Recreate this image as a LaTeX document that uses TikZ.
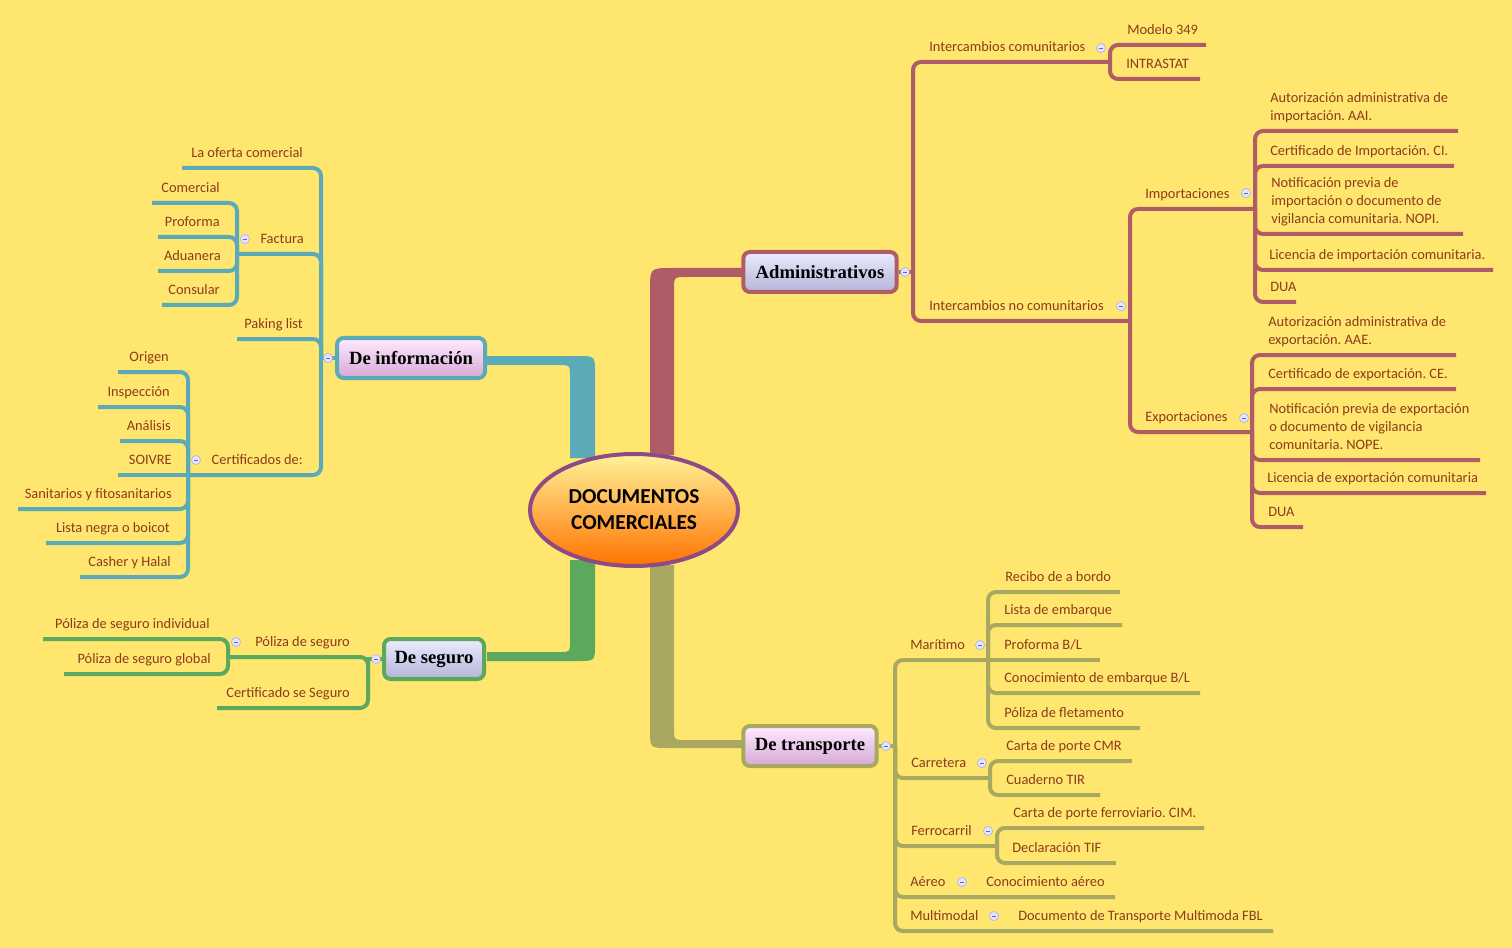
\documentclass[tikz,border=0pt]{standalone}
\usepackage{fontspec}
\usetikzlibrary{shapes.geometric}
\setmainfont{Carlito}
\newfontfamily\ttlfont{Liberation Serif}
\frenchspacing
\begin{document}
\begin{tikzpicture}[x=0.75pt,y=-0.75pt]
\definecolor{bg}{HTML}{FFE66E}
\definecolor{adm}{HTML}{B05C66}
\definecolor{inf}{HTML}{5AAAB8}
\definecolor{seg}{HTML}{5CA85C}
\definecolor{tra}{HTML}{A8A860}
\definecolor{txt}{HTML}{8E3A1C}
\newcounter{nn}
\tikzset{
 br/.style={line width=3pt,rounded corners=6},
 lbl/.style={inner sep=0pt,text=txt,font=\frenchspacing\fontsize{10.8}{13.4}\selectfont,align=left},
 col/.style={circle,minimum size=6.8pt,inner sep=0pt,fill=blue!10,draw=blue!35,line width=.4pt,
   path picture={\draw[blue!50!black!60,line width=.6pt] ([xshift=-1.8pt]path picture bounding box.center)--([xshift=1.8pt]path picture bounding box.center);}},
 mbox/.style={rounded corners=5,line width=3pt,minimum height=30pt,inner xsep=5pt,font=\ttlfont\bfseries\fontsize{14}{16}\selectfont}
}
\newcommand\tR[3]{\stepcounter{nn}\node[lbl,anchor=south west] (t\arabic{nn}) at (#1,#2-5) {#3\strut};}
\newcommand\tL[3]{\stepcounter{nn}\node[lbl,anchor=south east,align=right] (t\arabic{nn}) at (#1,#2-5) {#3\strut};}
\fill[bg] (0,0) rectangle (1512,948);
\useasboundingbox (0,0) rectangle (1512,948);
% main branches
\fill[adm] (650,455)--(650,290) .. controls (650,268) .. (672,268) -- (742,268) -- (742,277) -- (686,277) .. controls (674,277) .. (674,290) -- (674,455) -- cycle;
\fill[inf] (570,458)--(570,377) .. controls (570,365) .. (558,365) -- (487,365) -- (487,356) -- (578,356) .. controls (595,356) .. (595,373) -- (595,458) -- cycle;
\fill[seg] (570,560)--(570,642) .. controls (570,652) .. (560,652) -- (487,652) -- (487,661) -- (578,661) .. controls (595,661) .. (595,644) -- (595,560) -- cycle;
\fill[tra] (650,565)--(650,730) .. controls (650,748) .. (668,748) -- (742,748) -- (742,740) -- (686,740) .. controls (674,740) .. (674,728) -- (674,565) -- cycle;
% center
\node[ellipse,draw=adm!80!blue,line width=3pt,minimum width=156pt,minimum height=84pt,top color=orange!25!yellow!40,bottom color=orange!90!red,font=\bfseries\fontsize{16}{19.5}\selectfont,align=center] (ctr) at (634,510) {DOCUMENTOS\\COMERCIALES};
% boxes
\node[mbox,draw=adm,top color=blue!8!white,bottom color=blue!30!gray!45,minimum width=115pt] (admb) at (820,272) {Administrativos};
\node[mbox,draw=inf,top color=magenta!8!white,bottom color=magenta!35!gray!50,minimum width=111pt] (infb) at (411,358) {De información};
\node[mbox,draw=seg,top color=blue!8!white,bottom color=blue!30!gray!45,minimum width=75pt] (segb) at (434,659) {De seguro};
\node[mbox,draw=tra,top color=magenta!8!white,bottom color=magenta!35!gray!50,minimum width=100pt] (trab) at (810,746) {De transporte};
% Administrativos tree
\begin{scope}[adm,br]
\draw (admb.east)--(913,272);
\draw (913,272)--(913,62)--(1110,62);
\draw (913,272)--(913,321)--(1130,321);
\draw (1110,62)--(1110,45)--(1206,45);
\draw (1110,62)--(1110,79)--(1200,79);
\draw (1130,321)--(1130,209)--(1255,209);
\draw (1130,321)--(1130,432)--(1252,432);
\draw (1255,209)--(1255,131)--(1458,131);
\draw (1255,209)--(1255,166)--(1454,166);
\draw (1255,209)--(1255,234)--(1463,234);
\draw (1255,209)--(1255,270)--(1493,270);
\draw (1255,209)--(1255,302)--(1296,302);
\draw (1252,432)--(1252,355)--(1456,355);
\draw (1252,432)--(1252,389)--(1456,389);
\draw (1252,432)--(1252,460)--(1480,460);
\draw (1252,432)--(1252,493)--(1486,493);
\draw (1252,432)--(1252,527)--(1303,527);
\end{scope}
\tR{929}{62}{Intercambios comunitarios}
\tR{1127}{45}{Modelo 349}
\tR{1126}{79}{INTRASTAT}
\tR{929}{321}{Intercambios no comunitarios}
\tR{1145}{209}{Importaciones}
\tR{1145}{432}{Exportaciones}
\tR{1270}{131}{Autorización administrativa de\\importación. AAI.}
\tR{1270}{166}{Certificado de Importación. CI.}
\tR{1271}{234}{Notificación previa de\\importación o documento de\\vigilancia comunitaria. NOPI.}
\tR{1269}{270}{Licencia de importación comunitaria.}
\tR{1270}{302}{DUA}
\tR{1268}{355}{Autorización administrativa de\\exportación. AAE.}
\tR{1268}{389}{Certificado de exportación. CE.}
\tR{1269}{460}{Notificación previa de exportación\\o documento de vigilancia\\comunitaria. NOPE.}
\tR{1267}{493}{Licencia de exportación comunitaria}
\tR{1268}{527}{DUA}
% Información tree
\begin{scope}[inf,br]
\draw (infb.west)--(321,358);
\draw (321,358)--(321,168)--(182,168);
\draw (321,358)--(321,254)--(237,254);
\draw (237,254)--(237,203)--(152,203);
\draw (237,254)--(237,237)--(158,237);
\draw (237,254)--(237,271)--(158,271);
\draw (237,254)--(237,305)--(162,305);
\draw (321,358)--(321,339)--(237,339);
\draw (321,358)--(321,475)--(188,475);
\draw (188,475)--(188,372)--(118,372);
\draw (188,475)--(188,407)--(98,407);
\draw (188,475)--(188,441)--(120,441);
\draw (188,475)--(118,475);
\draw (188,475)--(188,509)--(18,509);
\draw (188,475)--(188,543)--(46,543);
\draw (188,475)--(188,577)--(80,577);
\end{scope}
\tL{303}{168}{La oferta comercial}
\tL{304}{254}{Factura}
\tL{220}{203}{Comercial}
\tL{220}{237}{Proforma}
\tL{221}{271}{Aduanera}
\tL{220}{305}{Consular}
\tL{303}{339}{Paking list}
\tL{303}{475}{Certificados de:}
\tL{169}{372}{Origen}
\tL{170}{407}{Inspección}
\tL{171}{441}{Análisis}
\tL{172}{475}{SOIVRE}
\tL{172}{509}{Sanitarios y fitosanitarios}
\tL{170}{543}{Lista negra o boicot}
\tL{171}{577}{Casher y Halal}
% Seguro tree
\begin{scope}[seg,br]
\draw (segb.west)--(368,659);
\draw (368,659)--(368,657)--(228,657);
\draw (368,657)--(368,708)--(217,708);
\draw (228,657)--(228,639)--(43,639);
\draw (228,657)--(228,674)--(64,674);
\end{scope}
\tL{350}{657}{Póliza de seguro}
\tL{350}{708}{Certificado se Seguro}
\tL{210}{639}{Póliza de seguro individual}
\tL{211}{674}{Póliza de seguro global}
% Transporte tree
\begin{scope}[tra,br]
\draw (trab.east)--(895,746);
\draw (895,746)--(895,660)--(988,660);
\draw (895,746)--(895,778)--(990,778);
\draw (895,746)--(895,846)--(997,846);
\draw (895,746)--(895,897)--(1115,897);
\draw (895,746)--(895,931)--(1273,931);
\draw (988,660)--(988,592)--(1120,592);
\draw (988,660)--(988,625)--(1122,625);
\draw (988,660)--(1100,660);
\draw (988,660)--(988,693)--(1200,693);
\draw (988,660)--(988,728)--(1140,728);
\draw (990,778)--(990,761)--(1132,761);
\draw (990,778)--(990,795)--(1100,795);
\draw (997,846)--(997,828)--(1204,828);
\draw (997,846)--(997,863)--(1116,863);
\end{scope}
\tR{910}{660}{Marítimo}
\tR{1005}{592}{Recibo de a bordo}
\tR{1004}{625}{Lista de embarque}
\tR{1004}{660}{Proforma B/L}
\tR{1004}{693}{Conocimiento de embarque B/L}
\tR{1004}{728}{Póliza de fletamento}
\tR{911}{778}{Carretera}
\tR{1006}{761}{Carta de porte CMR}
\tR{1006}{795}{Cuaderno TIR}
\tR{911}{846}{Ferrocarril}
\tR{1013}{828}{Carta de porte ferroviario. CIM.}
\tR{1012}{863}{Declaración TIF}
\tR{910}{897}{Aéreo}
\tR{986}{897}{Conocimiento aéreo}
\tR{910}{931}{Multimodal}
\tR{1018}{931}{Documento de Transporte Multimoda FBL}
% collapse icons
\foreach \i/\p in {1/{(905,272)},2/{(1101,48)},3/{(1121,306)},4/{(1246,193)},5/{(1244,418)},6/{(328,358)},7/{(245,239)},8/{(196,460)},9/{(376,659)},10/{(236,642)},11/{(886,746)},12/{(980,645)},13/{(982,763)},14/{(988,831)},15/{(962,882)},16/{(994,916)}}
  \node[col] (c\i) at \p {};
\end{tikzpicture}
\end{document}
